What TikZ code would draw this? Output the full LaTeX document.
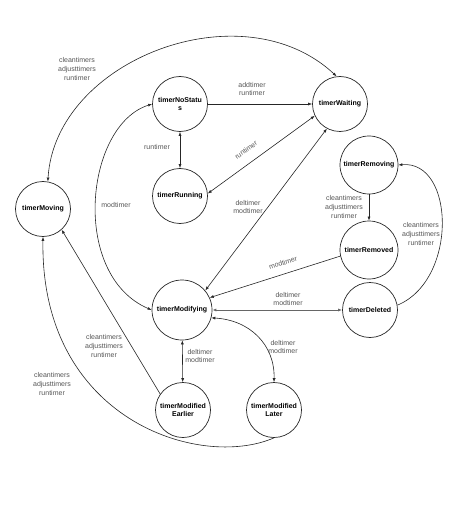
\documentclass[tikz,border=0pt]{standalone}
\usepackage{fontspec}
\setmainfont{Liberation Sans}
\usetikzlibrary{arrows.meta}
\definecolor{LabelGray}{RGB}{85,85,85}

\begin{document}
\begin{tikzpicture}[
                        x=1pt, y=-1pt,
                        every node/.style={font=\fontsize{7}{8.6}\selectfont},
                        state/.style={circle, draw=black!85, line width=0.7pt, minimum size=55pt, inner sep=0pt, align=center, font=\fontsize{7}{8.4}\selectfont\bfseries},
                        trans/.style={line width=0.6pt, black!85, -{Latex[length=4pt,width=3pt]}},
                        bitrans/.style={trans, {Latex[length=4pt,width=3pt]}-{Latex[length=4pt,width=3pt]}},
                        edgelabel/.style={text=LabelGray, align=center}
                    ]
                        \useasboundingbox (0,0) rectangle (474,505);
                        \node[state] (moving) at (43,209) {timerMoving};
                        \node[state] (nostatus) at (180,104) {timerNoStatu\\s};
                        \node[state] (running) at (180,196) {timerRunning};
                        \node[state] (waiting) at (340,104) {timerWaiting};
                        \node[state, minimum size=58pt] (removing) at (369,165) {timerRemoving};
                        \node[state, minimum size=58pt] (removed) at (369,250) {timerRemoved};
                        \node[state] (deleted) at (370,310) {timerDeleted};
                        \node[state, minimum size=60pt] (modifying) at (182,310) {timerModifying};
                        \node[state] (earlier) at (183,410) {timerModified\\Earlier};
                        \node[state] (later) at (274,410) {timerModified\\Later};
                        \draw[bitrans] (moving.80) .. controls (55,60) and (242,-12) .. (waiting.97);
                        \draw[trans] (nostatus) -- (waiting);
                        \draw[bitrans] (nostatus) -- (running);
                        \draw[bitrans] (running.5) -- (waiting.205);
                        \draw[bitrans] (nostatus.west) .. controls (85,125) and (70,275) .. (modifying.west);
                        \draw[bitrans] (modifying.40) -- (waiting.242);
                        \draw[trans] (removing) -- (removed);
                        \draw[trans] (deleted.10) .. controls (458,280) and (455,160) .. (removing.east);
                        \draw[trans] (removed.192) -- (modifying.24);
                        \draw[bitrans, line width=1pt, black!60] (modifying.east) -- (deleted.west);
                        \draw[bitrans] (modifying.-15) .. controls (250,320) and (275,345) .. (later.north);
                        \draw[bitrans] (modifying) -- (earlier);
                        \draw[trans] (earlier.145) -- (moving.-48);
                        \draw[trans] (later.south) .. controls (200,470) and (40,420) .. (moving.south);
                        \node[edgelabel] (lblmovewait) at (77,69) {cleantimers\\adjusttimers\\runtimer};
                        \node[edgelabel] (lbladd) at (252,89) {addtimer\\runtimer};
                        \node[edgelabel] (lblrun) at (157,147) {runtimer};
                        \node[edgelabel, rotate=36] (lblrunwait) at (246,150) {runtimer};
                        \node[edgelabel] (lblmodwait) at (248,207) {deltimer\\modtimer};
                        \node[edgelabel] (lblmodns) at (116,205) {modtimer};
                        \node[edgelabel] (lblremove) at (344,207) {cleantimers\\adjusttimers\\runtimer};
                        \node[edgelabel] (lbldelrm) at (421,234) {cleantimers\\adjusttimers\\runtimer};
                        \node[edgelabel, rotate=17] (lblremmod) at (283,263) {modtimer};
                        \node[edgelabel] (lbldel) at (288,299) {deltimer\\modtimer};
                        \node[edgelabel] (lbllater) at (283,347) {deltimer\\modtimer};
                        \node[edgelabel] (lblearly) at (200,356) {deltimer\\modtimer};
                        \node[edgelabel] (lblearlymv) at (104,346) {cleantimers\\adjusttimers\\runtimer};
                        \node[edgelabel] (lbllatermv) at (52,384) {cleantimers\\adjusttimers\\runtimer};
                    \end{tikzpicture}
\end{document}
